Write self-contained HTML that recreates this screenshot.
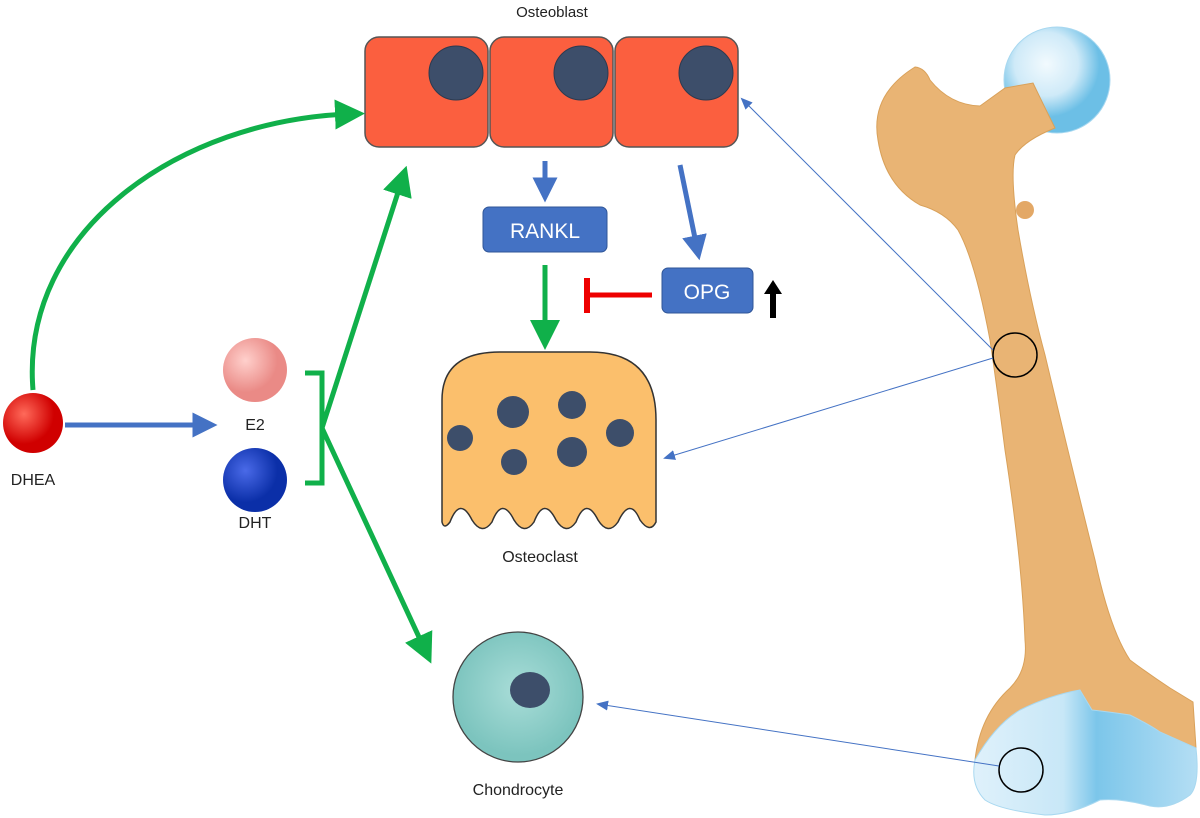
<!DOCTYPE html>
<html><head><meta charset="utf-8"><style>
body{margin:0;background:#fff}
svg{display:block;font-family:"Liberation Sans",sans-serif}
</style></head><body>
<svg width="1200" height="818" viewBox="0 0 1200 818">
<defs>
<marker id="g" markerWidth="6" markerHeight="6" refX="3" refY="3" orient="auto" markerUnits="strokeWidth"><path d="M0,0L6,3L0,6z" fill="#10b04a"/></marker>
<marker id="b" markerWidth="5" markerHeight="5" refX="2.5" refY="2.5" orient="auto" markerUnits="strokeWidth"><path d="M0,0L5,2.5L0,5z" fill="#4472c4"/></marker>
<marker id="t" markerWidth="12" markerHeight="12" refX="10" refY="6" orient="auto" markerUnits="userSpaceOnUse"><path d="M0,1L12,6L0,11z" fill="#4472c4"/></marker>
<radialGradient id="rd" cx="35%" cy="35%"><stop offset="0" stop-color="#ff6a5a"/><stop offset="1" stop-color="#d00000"/></radialGradient>
<radialGradient id="pk" cx="35%" cy="35%"><stop offset="0" stop-color="#ffd0cc"/><stop offset="1" stop-color="#ea8a86"/></radialGradient>
<radialGradient id="bl" cx="35%" cy="35%"><stop offset="0" stop-color="#4a6ae8"/><stop offset="1" stop-color="#0b2fa8"/></radialGradient>
<radialGradient id="ch" cx="50%" cy="45%"><stop offset="0" stop-color="#a9ddd8"/><stop offset="1" stop-color="#7cc4be"/></radialGradient>
<radialGradient id="hd" cx="40%" cy="35%"><stop offset="0" stop-color="#f2fafe"/><stop offset="0.6" stop-color="#cfeaf8"/><stop offset="1" stop-color="#6cbfe6"/></radialGradient>
<linearGradient id="cd" x1="0" y1="0" x2="1" y2="0"><stop offset="0" stop-color="#dff1fb"/><stop offset="0.4" stop-color="#c8e7f7"/><stop offset="0.55" stop-color="#7cc6ea"/><stop offset="1" stop-color="#b4def4"/></linearGradient>
</defs>
<text x="552" y="17" font-size="15" text-anchor="middle" fill="#222">Osteoblast</text>
<g stroke="#555" stroke-width="1.5" fill="#fb5f3f">
<rect x="365" y="37" width="123" height="110" rx="14"/>
<rect x="490" y="37" width="123" height="110" rx="14"/>
<rect x="615" y="37" width="123" height="110" rx="14"/>
</g>
<g fill="#3d4e6a" stroke="#2c3a50"><circle cx="456" cy="73" r="27"/><circle cx="581" cy="73" r="27"/><circle cx="706" cy="73" r="27"/></g>
<line x1="545" y1="161" x2="545" y2="190" stroke="#4472c4" stroke-width="5" marker-end="url(#b)"/>
<line x1="680" y1="165" x2="697" y2="248" stroke="#4472c4" stroke-width="5" marker-end="url(#b)"/>
<rect x="483" y="207" width="124" height="45" rx="6" fill="#4472c4" stroke="#2f5597"/>
<text x="545" y="238" font-size="21" text-anchor="middle" fill="#fff">RANKL</text>
<rect x="662" y="268" width="91" height="45" rx="6" fill="#4472c4" stroke="#2f5597"/>
<text x="707" y="299" font-size="21" text-anchor="middle" fill="#fff">OPG</text>
<path d="M773,280L782,294H776V318H770V294H764Z" fill="#000"/>
<line x1="545" y1="265" x2="545" y2="335" stroke="#10b04a" stroke-width="5" marker-end="url(#g)"/>
<line x1="652" y1="295" x2="588" y2="295" stroke="#e00" stroke-width="5"/>
<line x1="587" y1="278" x2="587" y2="313" stroke="#e00" stroke-width="6"/>
<path d="M442,522V400Q442,352 500,352H590Q656,352 656,420V522Q650,534 640,520Q630,496 618,522Q608,536 598,520Q586,496 576,522Q566,536 556,520Q544,496 534,522Q524,536 514,520Q502,496 492,522Q482,536 472,520Q460,496 450,522Q444,530 442,522Z" fill="#fbbf6c" stroke="#333" stroke-width="1.5"/>
<g fill="#3d4e6a"><circle cx="460" cy="438" r="13"/><circle cx="513" cy="412" r="16"/><circle cx="572" cy="405" r="14"/><circle cx="620" cy="433" r="14"/><circle cx="514" cy="462" r="13"/><circle cx="572" cy="452" r="15"/></g>
<text x="540" y="562" font-size="16" text-anchor="middle" fill="#222">Osteoclast</text>
<circle cx="518" cy="697" r="65" fill="url(#ch)" stroke="#444" stroke-width="1.3"/>
<ellipse cx="530" cy="690" rx="20" ry="18" fill="#3d4e6a"/>
<text x="518" y="795" font-size="16" text-anchor="middle" fill="#222">Chondrocyte</text>
<circle cx="33" cy="423" r="30" fill="url(#rd)"/>
<text x="33" y="485" font-size="16" text-anchor="middle" fill="#222">DHEA</text>
<circle cx="255" cy="370" r="32" fill="url(#pk)"/>
<text x="255" y="430" font-size="16" text-anchor="middle" fill="#222">E2</text>
<circle cx="255" cy="480" r="32" fill="url(#bl)"/>
<text x="255" y="528" font-size="16" text-anchor="middle" fill="#222">DHT</text>
<line x1="65" y1="425" x2="205" y2="425" stroke="#4472c4" stroke-width="5" marker-end="url(#b)"/>
<path d="M305,373H322V483H305" fill="none" stroke="#10b04a" stroke-width="5"/>
<line x1="322" y1="428" x2="402" y2="180" stroke="#10b04a" stroke-width="5" marker-end="url(#g)"/>
<line x1="322" y1="428" x2="425" y2="650" stroke="#10b04a" stroke-width="5" marker-end="url(#g)"/>
<path d="M33,390C20,230 180,120 350,114" fill="none" stroke="#10b04a" stroke-width="5" marker-end="url(#g)"/>
<!-- bone -->
<circle cx="1057" cy="80" r="53" fill="url(#hd)" stroke="#a8d8f0"/>
<circle cx="1025" cy="210" r="9" fill="#e3a866"/>
<path d="M915,67 Q925,68 930,80 Q950,105 980,106 L1005,88 L1033,83 Q1045,108 1055,128 Q1025,140 1015,155 Q1010,175 1018,230 Q1030,300 1045,355 Q1070,460 1095,560 Q1110,630 1130,660 Q1150,675 1170,688 L1193,702 L1196,748 L975,760 Q980,715 1010,688 Q1028,670 1025,640 Q1022,560 1005,450 Q996,380 990,340 Q975,260 958,230 Q945,212 920,205 Q885,185 878,140 Q870,95 915,67Z" fill="#e9b474" stroke="#d9a15a" stroke-width="1"/>
<path d="M975,760 Q995,725 1020,710 Q1050,695 1080,690 L1092,710 Q1110,712 1130,715 Q1150,725 1160,732 L1196,748 Q1200,785 1190,795 Q1170,810 1150,806 Q1120,798 1100,800 Q1070,815 1045,815 Q1000,810 985,800 Q970,785 975,760Z" fill="url(#cd)" stroke="#a8d8f0"/>
<circle cx="1015" cy="355" r="22" fill="none" stroke="#000" stroke-width="1.5"/>
<circle cx="1021" cy="770" r="22" fill="none" stroke="#000" stroke-width="1.5"/>
<g stroke="#4472c4" stroke-width="1">
<line x1="993" y1="350" x2="742" y2="99" marker-end="url(#t)"/>
<line x1="993" y1="358" x2="665" y2="458" marker-end="url(#t)"/>
<line x1="999" y1="766" x2="598" y2="704" marker-end="url(#t)"/>
</g>
</svg>
</body></html>
